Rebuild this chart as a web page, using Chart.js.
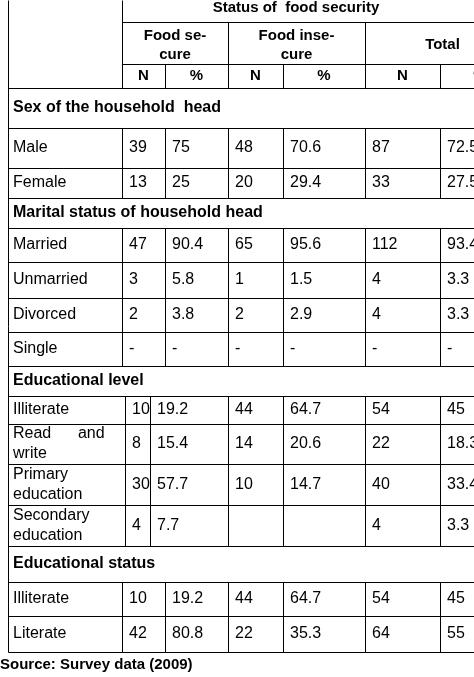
<!DOCTYPE html>
<html><head><meta charset="utf-8">
<script src="https://cdn.jsdelivr.net/npm/chart.js@4.4.0/dist/chart.umd.min.js"></script>
<style>html,body{margin:0;padding:0;background:#fff}#wrap{width:474px;height:677px}</style>
</head><body><div id="wrap"><canvas id="c"></canvas></div>
<script>
const groups = [["Food se-","cure"],["Food inse-","cure"],["Total"]];
const subHeads = ["N","%","N","%","N","%"];
const rowLabels = [
 {s:"Sex of the household  head"},
 ["Male"],["Female"],
 {s:"Marital status of household head"},
 ["Married"],["Unmarried"],["Divorced"],["Single"],
 {s:"Educational level"},
 ["Illiterate"],["Read      and","write"],["Primary","education"],["Secondary","education"],
 {s:"Educational status"},
 ["Illiterate"],["Literate"]
];
const rowValues = [
 null,
 ["39","75","48","70.6","87","72.50"],
 ["13","25","20","29.4","33","27.50"],
 null,
 ["47","90.4","65","95.6","112","93.40"],
 ["3","5.8","1","1.5","4","3.3"],
 ["2","3.8","2","2.9","4","3.3"],
 ["-","-","-","-","-","-"],
 null,
 ["10","19.2","44","64.7","54","45"],
 ["8","15.4","14","20.6","22","18.30"],
 ["30","57.7","10","14.7","40","33.40"],
 ["4","7.7","","","4","3.3"],
 null,
 ["10","19.2","44","64.7","54","45"],
 ["42","80.8","22","35.3","64","55"]
];
const rowEdges = [88,128,168,198,228,262,298,332,366,396,424,464,505,546,582,616,652];
const colEdges = [8,122,165,228,283,365,440,520];
const eduCols = [8,125,150,228,283,365,440,520];

const tablePlugin = {id:'table', afterDraw(chart){
 const ctx=chart.ctx, xs=chart.scales.x, ys=chart.scales.y;
 const X=v=>xs.getPixelForValue(v), Y=v=>ys.getPixelForValue(v);
 ctx.save(); ctx.strokeStyle='#000'; ctx.lineWidth=1; ctx.fillStyle='#000';
 const line=(x1,y1,x2,y2)=>{ctx.beginPath();ctx.moveTo(X(x1)+0.5,Y(y1)+0.5);ctx.lineTo(X(x2)+0.5,Y(y2)+0.5);ctx.stroke();};
 const bottom=rowEdges[rowEdges.length-1];
 line(8,0,8,bottom); line(122,0,122,88);
 line(122,22,520,22); line(122,64,520,64);
 [228,365].forEach(x=>line(x,22,x,88));
 [165,283,440].forEach(x=>line(x,64,x,88));
 line(8,88,520,88);
 ctx.font='bold 15px "Liberation Sans"'; ctx.textBaseline='middle'; ctx.textAlign='center';
 ctx.fillText('Status of  food security',X(296),Y(8));
 groups.forEach((g,i)=>{const cx=(X(colEdges[1+2*i])+X(colEdges[3+2*i]))/2;
  if(g.length==2){ctx.fillText(g[0],cx,Y(36));ctx.fillText(g[1],cx,Y(55));} else ctx.fillText(g[0],cx,Y(45));});
 subHeads.forEach((h,i)=>ctx.fillText(h,(X(colEdges[1+i])+X(colEdges[2+i]))/2,Y(76)));
 ctx.textAlign='left';
 rowLabels.forEach((r,i)=>{
  const t=rowEdges[i], b=rowEdges[i+1], m=(t+b)/2;
  line(8,b,520,b);
  if(r.s){ctx.font='bold 16px "Liberation Sans"';ctx.fillText(r.s,X(13),Y(m));return;}
  const cols=(i>=9&&i<=12)?eduCols:colEdges;
  for(let k=1;k<cols.length-1;k++) line(cols[k],t,cols[k],b);
  ctx.font='16px "Liberation Sans"';
  if(r.length==1) ctx.fillText(r[0],X(13),Y(m));
  else {ctx.fillText(r[0],X(13),Y(m-10));ctx.fillText(r[1],X(13),Y(m+10));}
  rowValues[i].forEach((v,k)=>ctx.fillText(v,X(cols[1+k]+7),Y(m)));
 });
 ctx.font='bold 15px "Liberation Sans"'; ctx.fillText('Source: Survey data (2009)',X(0),Y(665));
 ctx.restore();
}};
new Chart(document.getElementById('c'),{type:'scatter',data:{datasets:[{data:[]}]},
 options:{responsive:true,maintainAspectRatio:false,animation:false,layout:{padding:0},
  plugins:{legend:{display:false},tooltip:{enabled:false}},
  scales:{x:{type:'linear',min:0,max:474,display:false},y:{type:'linear',min:0,max:677,reverse:true,display:false}}},
 plugins:[tablePlugin]});
</script></body></html>
